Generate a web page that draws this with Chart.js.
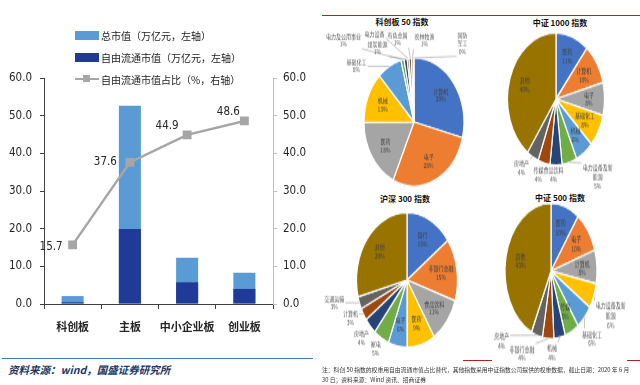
<!DOCTYPE html>
<html>
<head>
<meta charset="utf-8">
<script src="https://cdn.jsdelivr.net/npm/chart.js@4"></script>
<style>
body { margin: 0; width: 640px; height: 385px; background: #fff; position: relative; overflow: hidden;
       font-family: "Noto Sans CJK SC", sans-serif; }
.abs { position: absolute; }
#barBox { left: 0; top: 0; width: 320px; height: 345px; }
#legend { left: 75px; top: 24px; font-size: 10px; color: #222; }
.lg { height: 22px; display: flex; align-items: center; white-space: nowrap; }
.sw { display: inline-block; width: 24px; height: 9px; margin-right: 2px; }
.lineSw { position: relative; width: 24px; height: 9px; margin-right: 2px; }
.lineSw i { position: absolute; left: 0; top: 3px; width: 24px; height: 2.5px; background: #A6A6A6; }
.lineSw b { position: absolute; left: 8px; top: 0.5px; width: 7px; height: 7px; background: #A6A6A6; }
#srcLine { left: 2px; top: 358px; width: 311px; border-top: 1.5px solid #3A7BC8; }
#srcText { left: 8px; top: 362px; font-size: 10.5px; font-style: italic; font-weight: bold; color: #203864; white-space: nowrap; }
.redLine { height: 0; border-top: 1px solid #B22222; }
.pieTitle { font-size: 8px; font-weight: bold; color: #111; white-space: nowrap; transform: translateX(-50%); }
.pie { transform-origin: 50% 50%; }
#note { left: 322px; top: 365px; font-size: 5.8px; line-height: 9.5px; color: #333; white-space: nowrap; }
</style>
</head>
<body>

<div id="barBox" class="abs"><canvas id="barChart"></canvas></div>

<div id="legend" class="abs">
  <div class="lg"><span class="sw" style="background:#5B9BD5"></span>总市值（万亿元，左轴）</div>
  <div class="lg"><span class="sw" style="background:#1F3B97"></span>自由流通市值（万亿元，左轴）</div>
  <div class="lg"><span class="lineSw"><i></i><b></b></span>自由流通市值占比（%，右轴）</div>
</div>

<div id="srcLine" class="abs"></div>
<div id="srcText" class="abs">资料来源：wind，国盛证券研究所</div>

<div class="abs redLine" style="left:322px;top:15px;width:318px"></div>
<div class="abs redLine" style="left:463px;top:360px;width:29px"></div>
<div class="abs redLine" style="left:627px;top:360px;width:13px"></div>

<div class="abs pieTitle" style="left:402px;top:16px">科创板 50 指数</div>
<div class="abs pieTitle" style="left:560px;top:17px">中证 1000 指数</div>
<div class="abs pieTitle" style="left:405px;top:193px">沪深 300 指数</div>
<div class="abs pieTitle" style="left:560px;top:192px">中证 500 指数</div>

<canvas id="pieKc50" class="abs pie" width="200" height="200"></canvas>
<canvas id="pieZz1000" class="abs pie" width="200" height="200"></canvas>
<canvas id="pieHs300" class="abs pie" width="200" height="200"></canvas>
<canvas id="pieZz500" class="abs pie" width="200" height="200"></canvas>

<div id="note" class="abs">注：科创 50 指数的权重用自由流通市值占比替代，其他指数采用中证指数公司提供的权重数据，截止日期：2020 年 6 月<br>30 日；资料来源：Wind 资讯、招商证券</div>

<script>
// left chart data
const boards = ['科创板', '主板', '中小企业板', '创业板'];
const totalCap = [2.1, 52.6, 12.3, 8.3];
const freeCap = [0.45, 19.9, 5.75, 4.0];
const freeRatio = [15.7, 37.6, 44.9, 48.6];
const axisMin = 0, axisMax = 60, axisStep = 10;

// pie data (percent weights)
const kc50Names = ['计算机', '电子', '医药', '机械', '基础化工', '电力及公用事业', '煤炭能源', '电力设备', '有色金属', '农林牧渔', '国防\n军工'];
const kc50Values = [29, 28, 18, 13, 8, 1, 1, 0.6, 0.8, 0.6, 0.2];

const zz1000Names = ['医药', '计算机', '电子', '基础化工', '机械', '电力设备及新\n能源', '食品饮料', '传媒', '房地产', '其他'];
const zz1000Values = [11, 10, 8, 8, 6, 5, 4, 4, 4, 40];

const hs300Names = ['银行', '非银行金融', '食品饮料', '医药', '电子', '家电', '房地产', '计算机', '交通运输', '其他'];
const hs300Values = [15, 15, 11, 9, 6, 5, 4, 3, 3, 29];

const zz500Names = ['医药', '电子', '计算机', '电力设备及新\n能源', '基础化工', '传媒', '机械', '非银行金融', '房地产', '其他'];
const zz500Values = [10, 10, 8, 6, 6, 5, 4, 4, 4, 43];

const officeColors = ['#4472C4', '#ED7D31', '#A5A5A5', '#FFC000', '#5B9BD5', '#70AD47',
                      '#264478', '#9E480E', '#636363', '#997300', '#255E91'];

// label placement (style only): offsets for line labels, outside-label spots for pies in radius units
const ratioLabelPlace = [
    { dx: -10, dy: 2, align: 'right' },
    { dx: -13, dy: 0, align: 'right' },
    { dx: -20, dy: -9, align: 'center' },
    { dx: -16, dy: -9, align: 'center' }
];
const kc50Outside = { 4: [-1.15, -0.88], 5: [-1.41, -1.28], 6: [-0.73, -1.16], 7: [-0.79, -1.38, true],
                      8: [-0.33, -1.30], 9: [0.21, -1.28], 10: [0.97, -1.23] };
const zz1000Outside = { 5: [0.86, 1.18], 6: [-0.05, 1.15], 7: [-0.36, 1.14], 8: [-0.71, 1.05] };
const hs300Outside = { 5: [-0.62, 1.02], 6: [-0.90, 0.87], 7: [-1.12, 0.56], 8: [-1.44, 0.34] };
const zz500Outside = { 3: [1.30, 0.66], 4: [0.89, 1.0], 6: [0.02, 1.21], 7: [-0.63, 1.22], 8: [-1.07, 1.03] };

Chart.defaults.font.family = '"Liberation Sans Narrow", "DejaVu Sans Condensed", "Liberation Sans", sans-serif';
Chart.defaults.color = '#262626';

const lineLabels = {
    id: 'lineLabels',
    afterDatasetsDraw(chart) {
        const ctx = chart.ctx;
        const meta = chart.getDatasetMeta(0);
        ctx.save();
        ctx.font = '11.5px ' + Chart.defaults.font.family;
        ctx.fillStyle = '#262626';
        ctx.textBaseline = 'middle';
        meta.data.forEach((pt, i) => {
            const p = ratioLabelPlace[i];
            ctx.textAlign = p.align;
            ctx.fillText(freeRatio[i].toFixed(1), pt.x + p.dx, pt.y + p.dy);
        });
        ctx.restore();
    }
};

new Chart(document.getElementById('barChart'), {
    data: {
        labels: boards,
        datasets: [
            {
                type: 'line', label: '自由流通市值占比（%，右轴）', data: freeRatio, yAxisID: 'y2', order: 0,
                borderColor: '#A6A6A6', borderWidth: 2.5, pointStyle: 'rect', pointRadius: 4.5,
                pointBackgroundColor: '#A6A6A6', pointBorderColor: '#A6A6A6', tension: 0
            },
            {
                type: 'bar', label: '自由流通市值（万亿元，左轴）', data: freeCap, yAxisID: 'y', order: 1,
                backgroundColor: '#1F3B97', grouped: false, barPercentage: 0.385, categoryPercentage: 1
            },
            {
                type: 'bar', label: '总市值（万亿元，左轴）', data: totalCap, yAxisID: 'y', order: 2,
                backgroundColor: '#5B9BD5', grouped: false, barPercentage: 0.385, categoryPercentage: 1
            }
        ]
    },
    options: {
        responsive: true,
        maintainAspectRatio: false,
        animation: false,
        layout: { padding: { top: 78, left: 0, right: 0, bottom: 0 } },
        plugins: { legend: { display: false }, tooltip: { enabled: false } },
        scales: {
            x: {
                offset: true,
                grid: { drawOnChartArea: false, tickLength: 5, color: '#404040', offset: true },
                border: { color: '#404040' },
                ticks: { padding: 11, color: '#262626', maxRotation: 0, minRotation: 0, autoSkip: false,
                         font: { family: '"Noto Sans CJK SC"', size: 11, weight: 'bold' } },
                afterFit(s) { s.height = 41; }
            },
            y: {
                position: 'left', min: axisMin, max: axisMax,
                grid: { drawOnChartArea: false, tickLength: 4, color: '#404040' },
                border: { color: '#404040' },
                ticks: { stepSize: axisStep, padding: 8, font: { size: 11.5 }, callback: v => v.toFixed(1) },
                afterFit(s) { s.width = 44; }
            },
            y2: {
                position: 'right', min: axisMin, max: axisMax,
                grid: { drawOnChartArea: false, tickLength: 4, color: '#BFBFBF' },
                border: { color: '#BFBFBF' },
                ticks: { stepSize: axisStep, padding: 6, font: { size: 11.5 }, callback: v => v.toFixed(1) },
                afterFit(s) { s.width = 47; }
            }
        }
    },
    plugins: [lineLabels]
});

// pie slice labels: inside ones at 0.68 r, outside ones at their spot with a leader line
const pieLabels = {
    id: 'pieLabels',
    afterDatasetsDraw(chart, args, opts) {
        const ctx = chart.ctx;
        const meta = chart.getDatasetMeta(0);
        const vals = chart.data.datasets[0].data;
        const names = chart.data.labels;
        const lh = 6.8;
        ctx.save();
        ctx.font = '5px "Noto Sans CJK SC"';
        ctx.textAlign = 'center';
        ctx.textBaseline = 'middle';
        meta.data.forEach((arc, i) => {
            const { x, y, startAngle, endAngle, outerRadius: r } =
                arc.getProps(['x', 'y', 'startAngle', 'endAngle', 'outerRadius'], true);
            const mid = (startAngle + endAngle) / 2;
            const out = opts.outside[i];
            let lines = names[i].split('\n');
            if (!(out && out[2])) lines = lines.concat(Math.round(vals[i]) + '%');
            let lx, ly;
            if (out) {
                lx = x + out[0] * r;
                ly = y + out[1] * r;
                const hw = Math.max(...lines.map(t => ctx.measureText(t).width)) / 2 + 1;
                const hh = lines.length * lh / 2;
                const px = x + Math.cos(mid) * r, py = y + Math.sin(mid) * r;
                const qx = Math.min(Math.max(px, lx - hw), lx + hw);
                const qy = Math.min(Math.max(py, ly - hh), ly + hh);
                if (Math.hypot(px - qx, py - qy) > 3) {
                    ctx.strokeStyle = '#8C8C8C';
                    ctx.lineWidth = 0.5;
                    ctx.beginPath();
                    ctx.moveTo(qx, qy);
                    ctx.lineTo(px, py);
                    ctx.stroke();
                }
                ctx.fillStyle = '#595959';
            } else {
                lx = x + Math.cos(mid) * r * 0.68;
                ly = y + Math.sin(mid) * r * 0.68;
                ctx.fillStyle = '#404040';
            }
            const top = ly - (lines.length - 1) * lh / 2;
            lines.forEach((t, k) => ctx.fillText(t, lx, top + k * lh));
        });
        ctx.restore();
    }
};

function makePie(id, names, values, outside, cx, cy, r, stretch) {
    const el = document.getElementById(id);
    el.style.left = (cx - 100) + 'px';
    el.style.top = (cy - 100) + 'px';
    el.style.transform = 'scaleY(' + stretch + ')';
    new Chart(el, {
        type: 'pie',
        data: {
            labels: names,
            datasets: [{
                data: values,
                backgroundColor: officeColors.slice(0, values.length),
                borderColor: '#fff',
                borderWidth: 1.2
            }]
        },
        options: {
            responsive: false,
            animation: false,
            radius: r,
            plugins: { legend: { display: false }, tooltip: { enabled: false }, pieLabels: { outside } }
        },
        plugins: [pieLabels]
    });
}

makePie('pieKc50', kc50Names, kc50Values, kc50Outside, 413.5, 122, 50, 1.28);
makePie('pieZz1000', zz1000Names, zz1000Values, zz1000Outside, 555.5, 99, 48.5, 1.36);
makePie('pieHs300', hs300Names, hs300Values, hs300Outside, 406.5, 279.5, 50.5, 1.33);
makePie('pieZz500', zz500Names, zz500Values, zz500Outside, 551, 270.5, 46, 1.47);
</script>
</body>
</html>
